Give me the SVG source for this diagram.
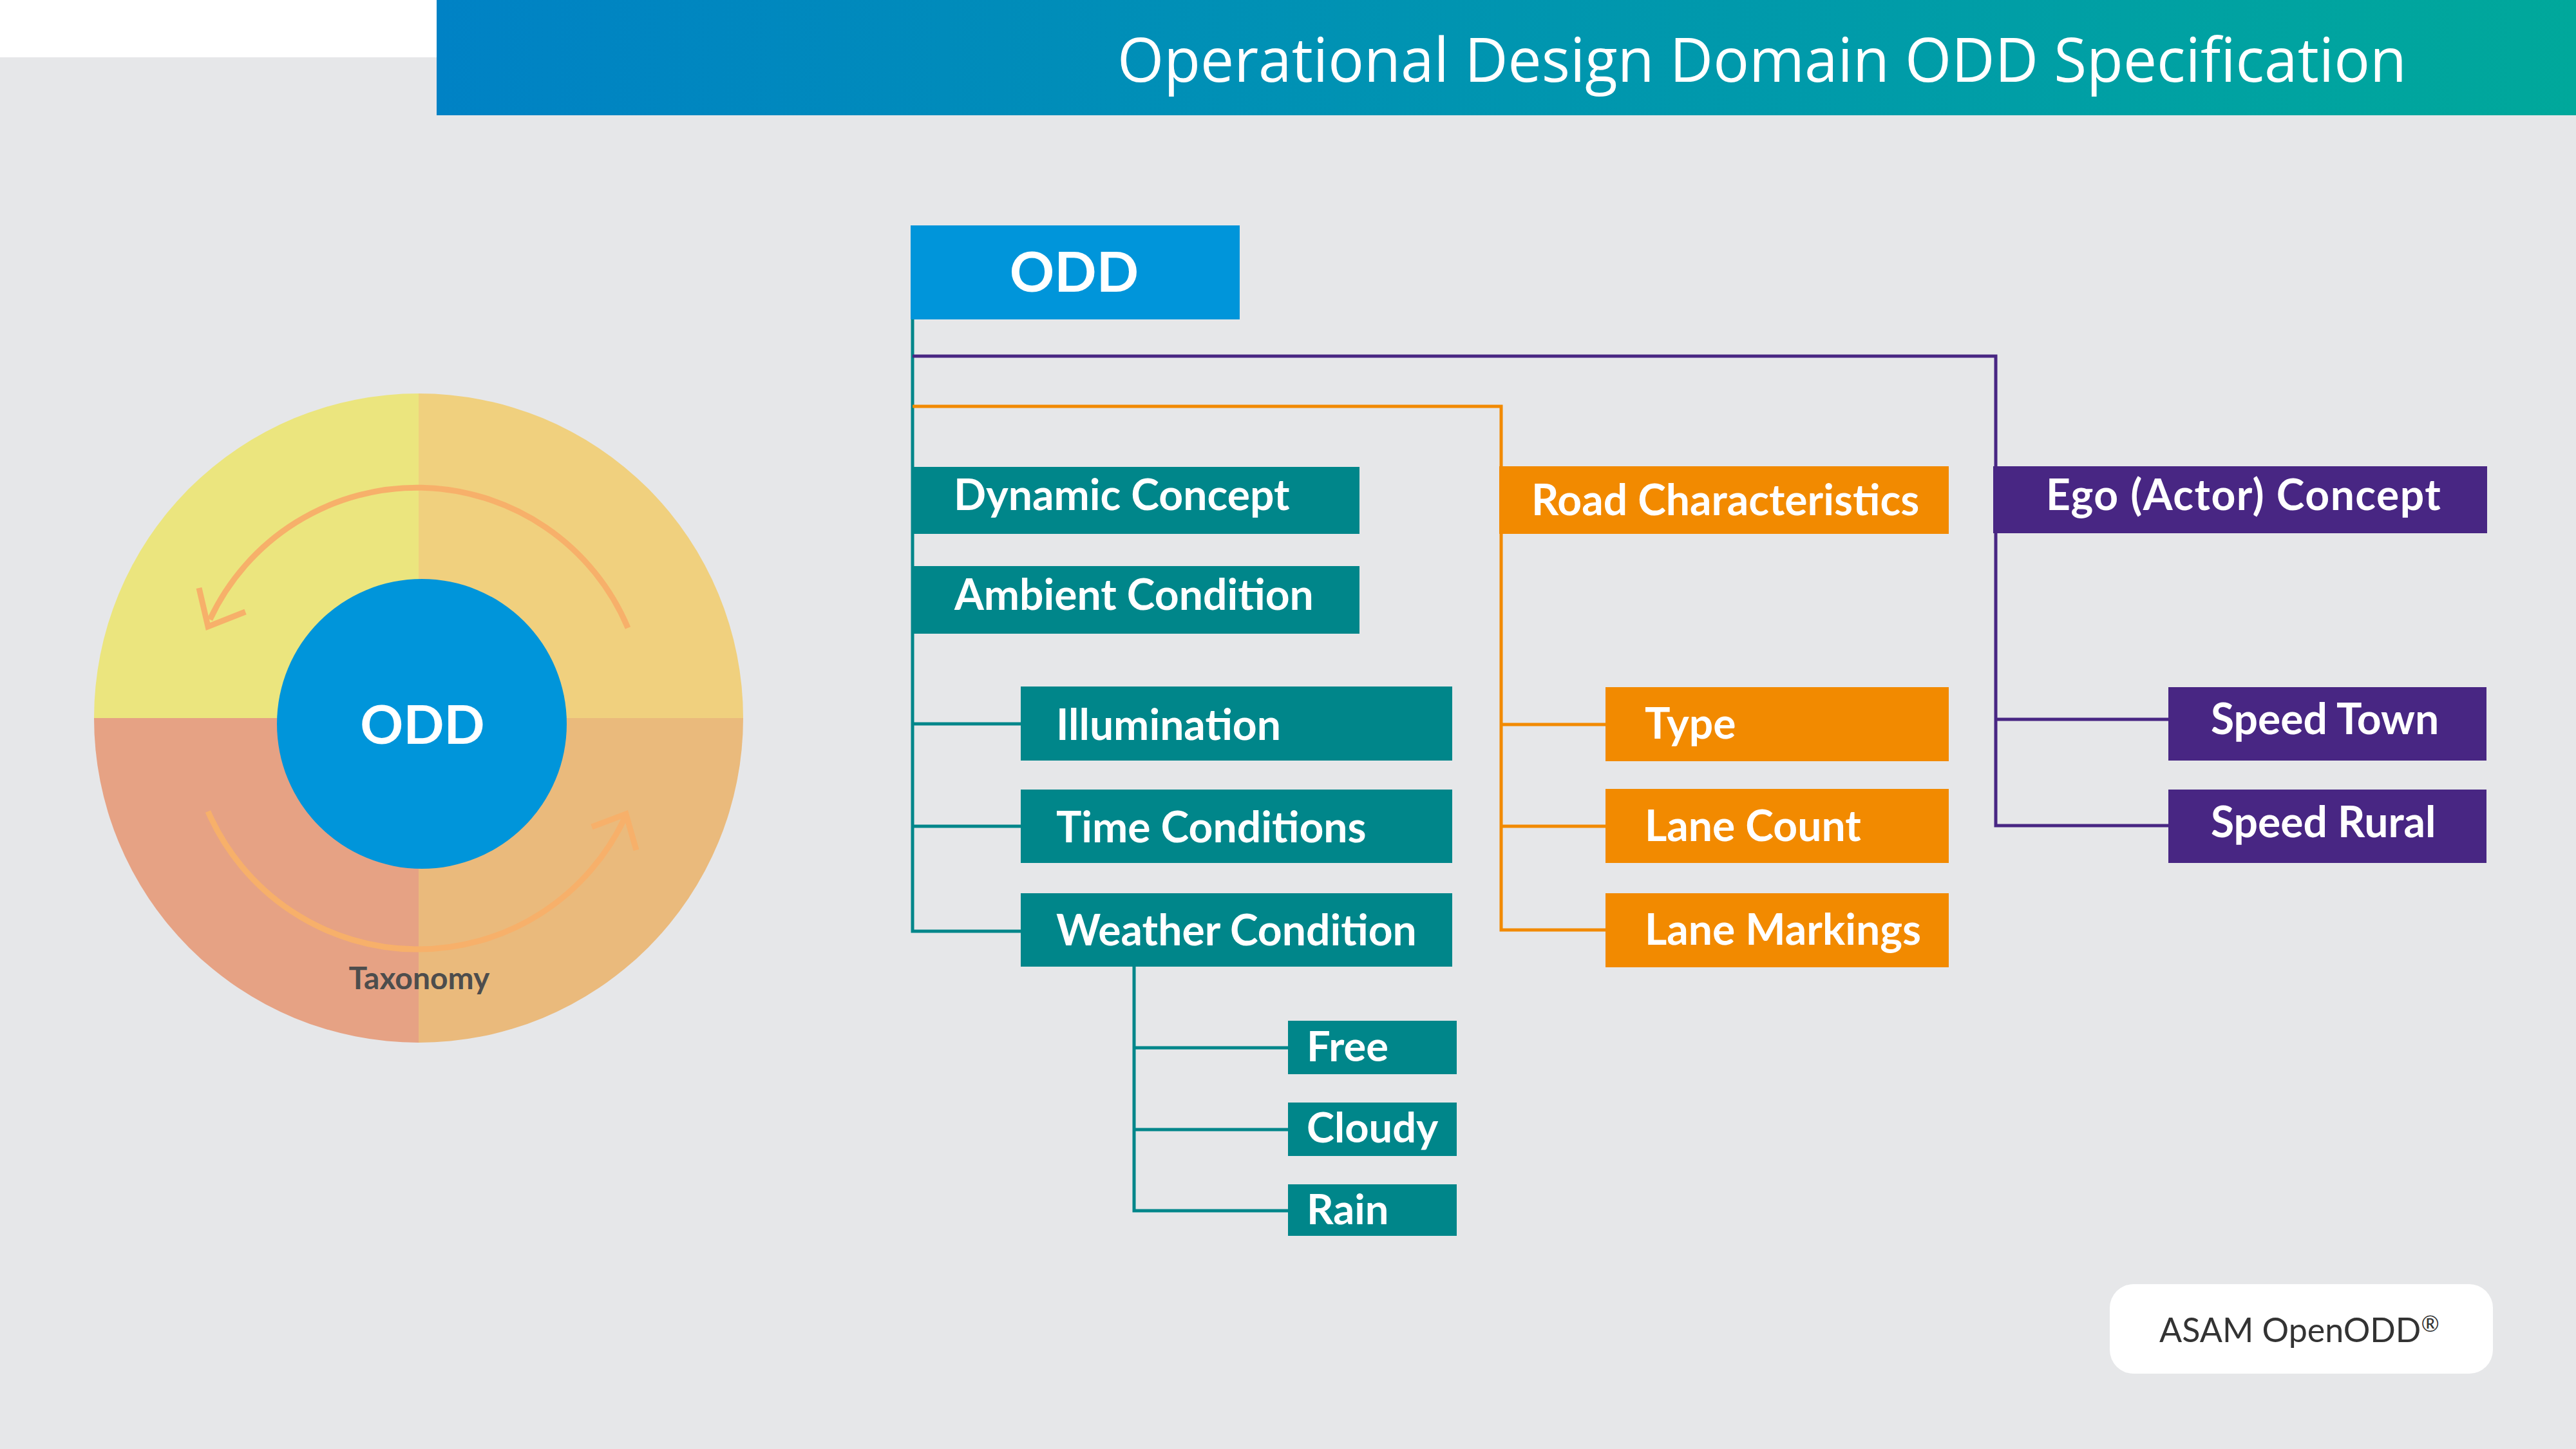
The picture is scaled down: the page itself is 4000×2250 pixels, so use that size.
<svg xmlns="http://www.w3.org/2000/svg" width="4000" height="2250" viewBox="0 0 4000 2250">
<defs>
<linearGradient id="banner" x1="0" y1="0" x2="1" y2="0">
<stop offset="0" stop-color="#0082C5"/>
<stop offset="1" stop-color="#00A89B"/>
</linearGradient>
<style>
.lbl{font-family:Lato,"Open Sans","Liberation Sans",sans-serif;font-weight:700;fill:#fff;}
.big{font-size:66px;}
.small{font-size:65px;}
.teal{fill:#00868A;}
.orange{fill:#F28A00;}
.purple{fill:#482683;}
.blue{fill:#0095DA;}
.cT{fill:none;stroke:#00868A;stroke-width:5;}
.cO{fill:none;stroke:#F28A00;stroke-width:5;}
.cP{fill:none;stroke:#482683;stroke-width:5;}
.arc{fill:none;stroke:#F7B06A;stroke-width:9;}
</style>
</defs>
<rect x="0" y="0" width="4000" height="2250" fill="#E6E7E9"/>
<rect x="0" y="0" width="678" height="89" fill="#FFFFFF"/>
<g id="title">
<rect x="678" y="0" width="3322" height="179" fill="url(#banner)"/>
<text x="1735" y="127" textLength="2002" lengthAdjust="spacingAndGlyphs" font-family="'Open Sans','Liberation Sans',sans-serif" font-size="96" fill="#fff">Operational Design Domain ODD Specification</text>
</g>
<g id="taxonomy-wheel">
<path d="M650 1115 L146 1115 A504 504 0 0 1 650 611 Z" fill="#EBE57E"/>
<path d="M650 1115 L650 611 A504 504 0 0 1 1154 1115 Z" fill="#F0D07E"/>
<path d="M650 1115 L1154 1115 A504 504 0 0 1 650 1619 Z" fill="#EABA7C"/>
<path d="M650 1115 L650 1619 A504 504 0 0 1 146 1115 Z" fill="#E6A284"/>
<path class="arc" d="M975 975 A355 355 0 0 0 326 962"/>
<polyline class="arc" points="309,913 323,973 381,950"/>
<path class="arc" d="M323 1260 A355 355 0 0 0 972 1266"/>
<polyline class="arc" points="919,1284 972,1264 988,1320"/>
<circle cx="655" cy="1124" r="225" fill="#0095DA"/>
<text x="656" y="1155" text-anchor="middle" font-family="Lato,'Liberation Sans',sans-serif" font-weight="700" font-size="83" fill="#fff">ODD</text>
<text x="651" y="1536" text-anchor="middle" font-family="Lato,'Liberation Sans',sans-serif" font-weight="700" font-size="48" fill="#4D4D4D">Taxonomy</text>
</g>
<g id="connectors">
<polyline class="cT" points="1417,496 1417,1446 1585,1446"/>
<line class="cT" x1="1417" y1="1124" x2="1585" y2="1124"/>
<line class="cT" x1="1417" y1="1283" x2="1585" y2="1283"/>
<polyline class="cT" points="1761,1501 1761,1880 2000,1880"/>
<line class="cT" x1="1761" y1="1627" x2="2000" y2="1627"/>
<line class="cT" x1="1761" y1="1754" x2="2000" y2="1754"/>
<polyline class="cP" points="1417,553 3099,553 3099,1282 3367,1282"/>
<line class="cP" x1="3099" y1="1117" x2="3367" y2="1117"/>
<polyline class="cO" points="1417,631 2331,631 2331,1444 2493,1444"/>
<line class="cO" x1="2331" y1="1125" x2="2493" y2="1125"/>
<line class="cO" x1="2331" y1="1283" x2="2493" y2="1283"/>
</g>
<g id="odd">
<rect class="blue" x="1414" y="350" width="511" height="146"/>
<text class="lbl" x="1668" y="453" text-anchor="middle" font-size="86">ODD</text>
</g>
<g id="dynamic-concept">
<rect class="teal" x="1417" y="725" width="694" height="104"/>
<text class="lbl big" x="1481" y="792">Dynamic Concept</text>
</g>
<g id="ambient-condition">
<rect class="teal" x="1417" y="879" width="694" height="105"/>
<text class="lbl big" x="1482" y="947">Ambient Condition</text>
</g>
<g id="illumination">
<rect class="teal" x="1585" y="1066" width="670" height="115"/>
<text class="lbl big" x="1640" y="1149">Illumination</text>
</g>
<g id="time-conditions">
<rect class="teal" x="1585" y="1226" width="670" height="114"/>
<text class="lbl big" x="1640" y="1308">Time Conditions</text>
</g>
<g id="weather-condition">
<rect class="teal" x="1585" y="1387" width="670" height="114"/>
<text class="lbl big" x="1640" y="1468">Weather Condition</text>
</g>
<g id="free">
<rect class="teal" x="2000" y="1585" width="262" height="83"/>
<text class="lbl small" x="2029" y="1648">Free</text>
</g>
<g id="cloudy">
<rect class="teal" x="2000" y="1712" width="262" height="83"/>
<text class="lbl small" x="2029" y="1774">Cloudy</text>
</g>
<g id="rain">
<rect class="teal" x="2000" y="1839" width="262" height="80"/>
<text class="lbl small" x="2029" y="1901">Rain</text>
</g>
<g id="road-characteristics">
<rect class="orange" x="2328" y="724" width="698" height="105"/>
<text class="lbl big" x="2378" y="800">Road Characteristics</text>
</g>
<g id="type">
<rect class="orange" x="2493" y="1067" width="533" height="115"/>
<text class="lbl big" x="2554" y="1147">Type</text>
</g>
<g id="lane-count">
<rect class="orange" x="2493" y="1225" width="533" height="115"/>
<text class="lbl big" x="2554" y="1306">Lane Count</text>
</g>
<g id="lane-markings">
<rect class="orange" x="2493" y="1387" width="533" height="115"/>
<text class="lbl big" x="2554" y="1467">Lane Markings</text>
</g>
<g id="ego-concept">
<rect class="purple" x="3095" y="724" width="767" height="104"/>
<text class="lbl big" x="3177" y="792" letter-spacing="1.5">Ego (Actor) Concept</text>
</g>
<g id="speed-town">
<rect class="purple" x="3367" y="1067" width="494" height="114"/>
<text class="lbl big" x="3433" y="1140">Speed Town</text>
</g>
<g id="speed-rural">
<rect class="purple" x="3367" y="1226" width="494" height="114"/>
<text class="lbl big" x="3433" y="1300">Speed Rural</text>
</g>
<g id="asam-badge">
<rect x="3276" y="1994" width="595" height="139" rx="37" ry="37" fill="#fff"/>
<text x="3353" y="2084" font-family="Lato,'Liberation Sans',sans-serif" font-size="52" fill="#333">ASAM OpenODD<tspan font-size="34" dy="-16">®</tspan></text>
</g>
</svg>
